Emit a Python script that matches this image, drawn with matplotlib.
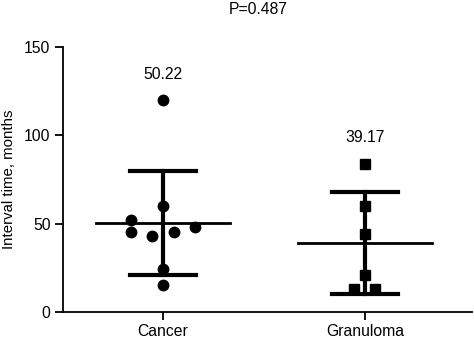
import numpy as np
import matplotlib
matplotlib.use("Agg")
import matplotlib.pyplot as plt

plt.rcParams["font.family"] = ["Liberation Sans", "DejaVu Sans"]

# datos
grupos = ["Cancer", "Granuloma"]
cancer = [120, 60, 52, 45, 43, 45, 48, 24, 15]
granuloma = [84, 60, 44, 21, 13, 13]
# desplazamiento horizontal de cada punto (para que no se tapen)
desp_cancer = [0, 0, -0.16, -0.16, -0.055, 0.055, 0.16, 0, 0]
desp_granuloma = [0, 0, 0, 0, -0.055, 0.05]
titulo = "P=0.487"

datos = [cancer, granuloma]
desps = [desp_cancer, desp_granuloma]
marcadores = ["o", "s"]
tamanos = [7.5, 7]

fig = plt.figure(figsize=(4.74, 3.45), dpi=100)
ax = fig.add_axes([0.133, 0.096, 0.863, 0.768])

for i, (vals, dd) in enumerate(zip(datos, desps)):
    vals = np.array(vals, dtype=float)
    media = vals.mean()
    sd = vals.std(ddof=1)
    # barra de error (media +- SD)
    ax.plot([i, i], [media - sd, media + sd], color="black", lw=3, zorder=2)
    for y in (media - sd, media + sd):
        ax.plot([i - 0.163, i + 0.163], [y, y], color="black", lw=3, zorder=2)
    # linea de la media
    ax.plot([i - 0.33, i + 0.33], [media, media], color="black", lw=2, zorder=2)
    # puntos
    ax.plot(i + np.array(dd), vals, linestyle="none", marker=marcadores[i],
            ms=tamanos[i], color="black", zorder=3)
    ax.text(i, vals.max() + 14.5, "%.2f" % media, ha="center", va="center",
            fontsize=11.3)

ax.set_xlim(-0.495, 1.53)
ax.set_ylim(0, 150)
ax.set_yticks([0, 50, 100, 150])
ax.set_xticks([0, 1])
ax.set_xticklabels(grupos)
ax.spines["top"].set_visible(False)
ax.spines["right"].set_visible(False)
for s in ("left", "bottom"):
    ax.spines[s].set_linewidth(1.3)
ax.tick_params(axis="both", length=6, width=1.3, labelsize=11.3, pad=3)
ax.set_ylabel("Interval time, months", fontsize=10.8, labelpad=6)

fig.text(258 / 474, 1 - 10 / 345, titulo, ha="center", va="center", fontsize=11.3)

fig.savefig("out.png", dpi=100)
